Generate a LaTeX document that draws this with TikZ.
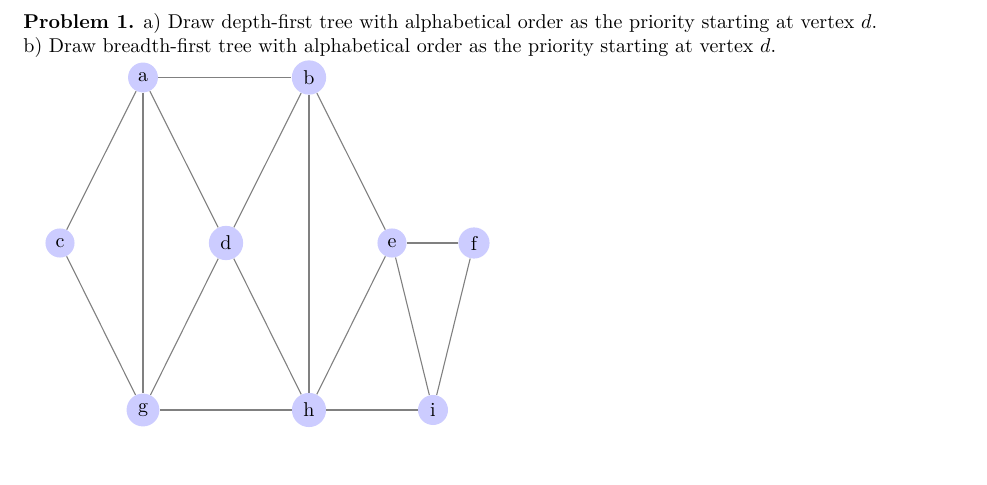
\documentclass[tikz,border=0pt]{standalone}
\begin{document}
\begin{tikzpicture}[x=0.5pt,y=-0.5pt,
  vtx/.style={circle,fill=blue!20,inner sep=2.9pt,font=\fontsize{10}{12}\selectfont},
  edge/.style={draw=gray,line width=0.55pt},
  txt/.style={anchor=base west,inner sep=0pt,font=\fontsize{10}{12}\selectfont}]
\useasboundingbox (0,0) rectangle (987,485);
\node[txt] (l1) at (23,29) {\textbf{Problem 1.} a) Draw depth-first tree with alphabetical order as the priority starting at vertex $d$.};
\node[txt] (l2) at (23,53) {b) Draw breadth-first tree with alphabetical order as the priority starting at vertex $d$.};
\node[vtx] (a) at (143,77.5) {a};
\node[vtx] (b) at (309,77.5) {b};
\node[vtx] (c) at (60,243) {c};
\node[vtx] (d) at (226,243) {d};
\node[vtx] (e) at (392,243) {e};
\node[vtx] (f) at (474,243) {f};
\node[vtx] (g) at (143,410) {g};
\node[vtx] (h) at (309,410) {h};
\node[vtx] (i) at (433,410) {i};
\foreach \u/\v in {a/b,a/c,a/g,a/d,b/d,b/h,b/e,c/g,d/g,d/h,e/f,e/h,e/i,f/i,g/h,h/i}
  \draw[edge] (\u) -- (\v);
\end{tikzpicture}
\end{document}
